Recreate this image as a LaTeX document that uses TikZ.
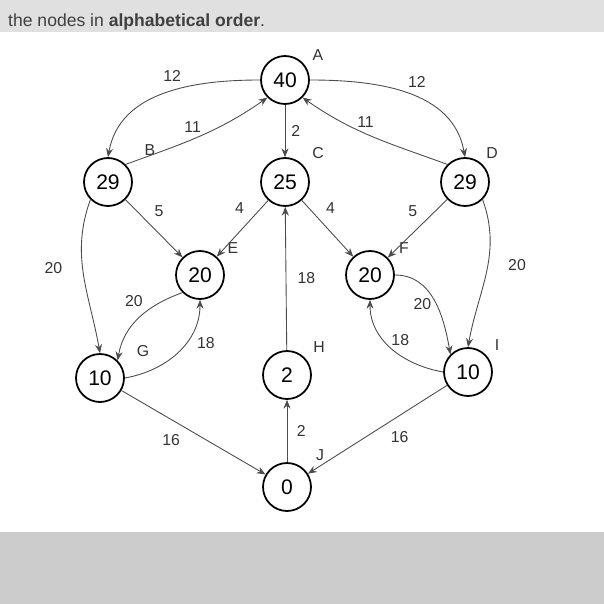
\documentclass[tikz,border=0pt]{standalone}
\usepackage{fontspec}
\setmainfont{Liberation Sans}
\usetikzlibrary{arrows.meta}
\begin{document}
\begin{tikzpicture}[x=0.02cm,y=-0.02cm,
  vert/.style={circle,draw,line width=1pt,minimum size=0.96cm,inner sep=0pt,font=\fontsize{12}{12}\selectfont},
  arc/.style={draw=black!70,line width=0.5pt,-{Stealth[length=5pt,width=4pt]}},
  lab/.style={font=\fontsize{9}{9}\selectfont,text=black!80},
  let/.style={font=\fontsize{9}{9}\selectfont,text=black!80}]
\fill[white] (0,0) rectangle (604,604);
\fill[black!12] (0,0) rectangle (604,32);
\fill[black!20] (0,532) rectangle (604,604);
\node[anchor=west,font=\fontsize{10}{10}\selectfont,text=black!75] (txt) at (2,22) {the nodes in \textbf{alphabetical order}.};
\node[vert] (A) at (285,80) {40};
\node[vert] (B) at (108,182) {29};
\node[vert] (C) at (285,182) {25};
\node[vert] (D) at (465,182) {29};
\node[vert] (E) at (200,275) {20};
\node[vert] (F) at (370,275) {20};
\node[vert] (G) at (100,378) {10};
\node[vert] (H) at (287,375) {2};
\node[vert] (I) at (468,372) {10};
\node[vert] (J) at (287,487) {0};
\node[let] (lA) at (318,55) {A};
\node[let] (lB) at (150,150) {B};
\node[let] (lC) at (318,153) {C};
\node[let] (lD) at (492,153) {D};
\node[let] (lE) at (233,248) {E};
\node[let] (lF) at (404,248) {F};
\node[let] (lG) at (143,351) {G};
\node[let] (lH) at (319,347) {H};
\node[let] (lI) at (497,345) {I};
\node[let] (lJ) at (320,455) {J};
\draw[arc] (A.west) to[out=180,in=80] node[lab,pos=0.45,above=2pt]{12} (B.north);
\draw[arc] (B.north east) to[out=20,in=215] node[lab,pos=0.45,above]{11} (A.south west);
\draw[arc] (A) -- node[lab,right]{2} (C);
\draw[arc] (A.east) to[out=0,in=100] node[lab,pos=0.55,above=2pt]{12} (D.north);
\draw[arc] (D.north west) to[out=160,in=-35] node[lab,pos=0.55,above]{11} (A.south east);
\draw[arc] (B) -- node[lab,pos=0.4,above right]{5} (E);
\draw[arc] (C) -- node[lab,pos=0.35,above left]{4} (E);
\draw[arc] (C) -- node[lab,pos=0.35,above right]{4} (F);
\draw[arc] (D) -- node[lab,pos=0.4,above left]{5} (F);
\draw[arc] (H) -- node[lab,right=3pt]{18} (C);
\draw[arc] (B.south west) to[out=250,in=100] node[lab,pos=0.45,left=8pt]{20} (G.north);
\draw[arc] (E.south west) to[out=200,in=80] node[lab,pos=0.2,left=8pt]{20} (G.north east);
\draw[arc] (G.east) to[out=10,in=-90] node[lab,pos=0.6,right=3pt]{18} (E.south);
\draw[arc] (D.south east) to[out=290,in=80] node[lab,pos=0.45,right=8pt]{20} (I.north);
\draw[arc] (F.east) to[out=0,in=100] node[lab,pos=0.3,below=4pt]{20} (I.north west);
\draw[arc] (I.west) to[out=170,in=-90] node[lab,pos=0.4,above=2pt]{18} (F.south);
\draw[arc] (G) -- node[lab,pos=0.45,below left]{16} (J);
\draw[arc] (I) -- node[lab,pos=0.45,below right]{16} (J);
\draw[arc] (J) -- node[lab,right=2pt]{2} (H);
\end{tikzpicture}
\end{document}
